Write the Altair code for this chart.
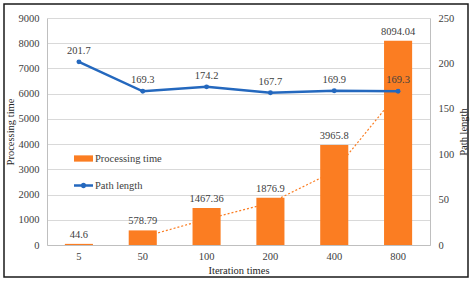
import altair as alt
import pandas as pd

# Iteration settings and measured results
iterations = ["5", "50", "100", "200", "400", "800"]
processing_time = [44.6, 578.79, 1467.36, 1876.9, 3965.8, 8094.04]
path_length = [201.7, 169.3, 174.2, 167.7, 169.9, 169.3]

df = pd.DataFrame({"iter": iterations, "time": processing_time, "path": path_length})

FONT = "Liberation Serif, Times New Roman, serif"
ORANGE = "#FB7D22"
BLUE = "#2468BE"
TEXT = "#404040"
AXIS_GREY = "#BFBFBF"
GRID = "#D9D9D9"

base = alt.Chart(df)

x_enc = alt.X(
    "iter:N",
    sort=iterations,
    scale=alt.Scale(paddingInner=0.56, paddingOuter=0.28),
    axis=alt.Axis(
        title="Iteration times",
        labelAngle=0,
        ticks=False,
        domainColor=AXIS_GREY,
        labelPadding=6,
        titlePadding=4,
    ),
)

left_scale = alt.Scale(domain=[0, 9000], nice=False)
left_axis = alt.Axis(
    title="Processing time",
    values=list(range(0, 9001, 1000)),
    format="d",
    grid=True,
    gridColor=GRID,
    domain=True,
    domainColor=AXIS_GREY,
    ticks=False,
    labelPadding=8,
    titlePadding=3,
)

y_left = alt.Y("time:Q", scale=left_scale, axis=left_axis)

y_right = alt.Y(
    "path:Q",
    scale=alt.Scale(domain=[0, 250], nice=False),
    axis=alt.Axis(
        title="Path length",
        orient="right",
        values=list(range(0, 251, 50)),
        format="d",
        grid=False,
        domain=True,
        domainColor=AXIS_GREY,
        ticks=False,
        labelPadding=8,
        titleAngle=270,
        titleBaseline="top",
        titlePadding=5,
    ),
)

# Two-period moving-average trend of the processing time (dotted)
trend = (
    base.transform_window(ma="mean(time)", n="count()", frame=[-1, 0])
    .transform_filter("datum.n == 2")
    .mark_line(color=ORANGE, strokeDash=[2, 2], strokeWidth=1.2)
    .encode(x=x_enc, y=alt.Y("ma:Q", scale=left_scale, axis=left_axis))
)

bars = (
    base.transform_calculate(series="'Processing time'")
    .mark_bar(color=ORANGE)
    .encode(
        x=x_enc,
        y=y_left,
        fill=alt.Fill(
            "series:N",
            scale=alt.Scale(range=[ORANGE]),
            legend=alt.Legend(
                title=None,
                orient="none",
                legendX=27,
                legendY=131,
                padding=0,
                symbolType="M-1,-0.33H1V0.33H-1Z",
                symbolSize=361,
                symbolStrokeWidth=0,
                labelOffset=2,
                labelFont=FONT,
                labelFontSize=10.5,
                labelColor=TEXT,
            ),
        ),
    )
)

bar_labels = (
    base.transform_calculate(lbl="'' + datum.time")
    .mark_text(baseline="bottom", dy=-4, font=FONT, fontSize=10.5, color=TEXT)
    .encode(x=x_enc, y=y_left, text="lbl:N")
)

left = alt.layer(trend, bars, bar_labels)

path_line = base.mark_line(color=BLUE, strokeWidth=2.5).encode(x=x_enc, y=y_right)

path_points = (
    base.transform_calculate(series2="'Path length'")
    .mark_circle(size=24, opacity=1)
    .encode(
        x=x_enc,
        y=y_right,
        color=alt.Color(
            "series2:N",
            scale=alt.Scale(range=[BLUE]),
            legend=alt.Legend(
                title=None,
                orient="none",
                legendX=27,
                legendY=158,
                padding=0,
                symbolType="M-1,-0.13H1V0.13H-1Z M0.28,0A0.28,0.28,0,1,1,-0.28,0A0.28,0.28,0,1,1,0.28,0Z",
                symbolSize=361,
                symbolStrokeWidth=0,
                labelOffset=2,
                labelFont=FONT,
                labelFontSize=10.5,
                labelColor=TEXT,
            ),
        ),
    )
)

path_labels = (
    base.transform_calculate(lbl="'' + datum.path")
    .mark_text(baseline="bottom", dy=-6, font=FONT, fontSize=10.5, color=TEXT)
    .encode(x=x_enc, y=y_right, text="lbl:N")
)

right = alt.layer(path_line, path_points, path_labels)

# Outer frame around the whole figure
frame = (
    alt.Chart(pd.DataFrame({"k": [0]}))
    .mark_rect(fillOpacity=0, stroke="#1a1a1a", strokeWidth=1.5, clip=False)
    .encode(
        x=alt.value(-43),
        x2=alt.value(421),
        y=alt.value(-14),
        y2=alt.value(259),
    )
)

chart = (
    alt.layer(left, right, frame)
    .resolve_scale(y="independent", fill="independent", color="independent")
    .properties(
        width=383,
        height=227,
        autosize=alt.AutoSizeParams(type="none"),
        padding={"left": 47, "top": 18, "right": 44, "bottom": 38},
        background="white",
    )
    .configure_view(stroke=None)
    .configure_axis(
        labelFont=FONT,
        labelFontSize=10.5,
        labelColor=TEXT,
        titleFont=FONT,
        titleFontSize=10.5,
        titleFontWeight="normal",
        titleColor="#262626",
    )
)

chart.save("out.html", embed_options={"renderer": "svg", "actions": False})
